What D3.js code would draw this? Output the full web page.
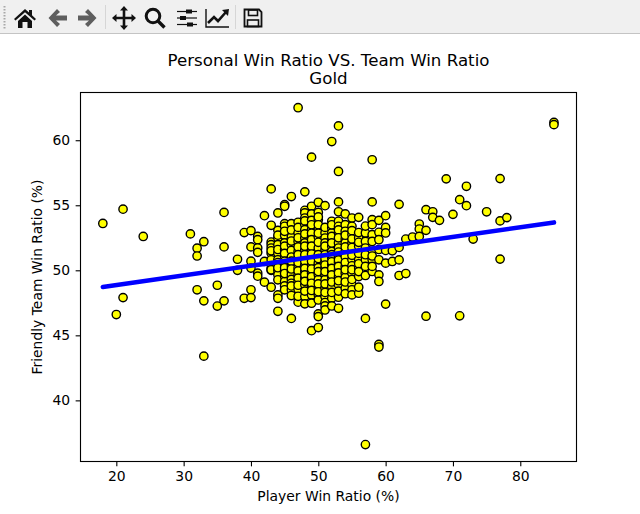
<!DOCTYPE html>
<html>
<head>
<meta charset="utf-8">
<script src="https://cdn.jsdelivr.net/npm/d3@7/dist/d3.min.js"></script>
<style>
  html, body { margin: 0; padding: 0; background: #fff; }
  svg { display: block; font-family: "DejaVu Sans", sans-serif; }
  .tick text { font-size: 13.9px; fill: #000; }
</style>
</head>
<body>
<svg id="chart" width="640" height="514"></svg>
<script>
const titleLines = ["Personal Win Ratio VS. Team Win Ratio", "Gold"];
const xLabel = "Player Win Ratio (%)";
const yLabel = "Friendly Team Win Ratio (%)";
const xTicks = [20, 30, 40, 50, 60, 70, 80];
const yTicks = [40, 45, 50, 55, 60];

// player win ratio is whole numbers, so friendly team values are kept per column
const playerWin = [18, 20, 21, 24, 31, 32, 33, 35, 36, 38, 39, 40, 41, 42, 43, 44, 45, 46, 47, 48, 49, 50, 51, 52, 53, 54, 55, 56, 57, 58, 59, 60, 61, 62, 63, 64, 65, 66, 67, 68, 69, 70, 71, 72, 73, 75, 77, 78, 85];
const teamWin = [
  [53.6],
  [46.6],
  [54.7, 47.9],
  [52.6],
  [52.8],
  [51.7, 51.1, 48.5],
  [52.2, 47.65, 43.4],
  [48.85, 47.25],
  [54.45, 51.8, 47.65],
  [50.85, 50],
  [52.9, 47.85],
  [53.05, 51.8, 50.7, 50.17, 48.5, 47.9],
  [52.61, 52.35, 51.71, 51.38, 49.78, 49.55],
  [54.2, 50.68, 49.09],
  [56.26, 53.46, 52.17, 51.97, 51.71, 51.32, 50.81, 50.17, 49.99, 48.7, 51.5, 50.05],
  [54.41, 53.07, 52.48, 51.97, 51.32, 50.81, 49.99, 49.65, 49.27, 48.11, 47.85, 46.85, 52.7, 51.6, 50.6, 50.2],
  [55.05, 54.92, 53.59, 53.38, 52.69, 52.1, 51.58, 51.07, 50.42, 49.99, 49.52, 49.14, 48.8, 48.5, 53, 51.85, 51.3, 50.7, 50.2, 49.75],
  [55.67, 53.59, 52.56, 51.97, 51.53, 51.02, 50.35, 49.91, 49.65, 48.5, 48.06, 46.3, 53.1, 52.25, 50.7, 50.1, 49.3, 49, 48.8],
  [62.5, 53.69, 52.87, 52.22, 51.45, 50.94, 50.17, 49.65, 49.14, 48.55, 47.55, 53.3, 52.5, 51.8, 51.2, 50.6, 49.95, 49.4, 48.85, 48],
  [56.03, 54.61, 54.41, 54.02, 53.51, 53.12, 52.48, 52.1, 51.58, 50.94, 50.42, 49.91, 49.4, 48.88, 47.98, 47.42, 53.8, 52.8, 51.85, 51.2, 50.7, 50.15, 49.65, 49.15, 48.4],
  [58.7, 54.92, 54.33, 53.84, 53.12, 52.61, 52.1, 51.58, 50.94, 50.42, 49.78, 49.27, 48.8, 48.11, 47.47, 45.36, 53.5, 52.85, 52.35, 51.85, 51.25, 50.7, 50.1, 49.5, 49, 48.45],
  [55.23, 54.45, 53.89, 53.17, 52.56, 51.71, 51.2, 50.55, 49.65, 49.27, 48.62, 48.11, 47.72, 46.65, 46.44, 45.6, 54.1, 53.5, 52.85, 52.15, 50.9, 50.2, 49.9, 48.95, 48.35],
  [54.97, 52.87, 52.48, 52.1, 51.58, 51.2, 50.68, 50.17, 49.65, 49.27, 48.62, 47.98, 47.52, 47.26, 46.95, 53.3, 51.85, 50.9, 50.4, 49.9, 48.95, 48.3],
  [59.9, 53.77, 53.25, 52.87, 52.35, 51.84, 51.45, 50.94, 50.42, 49.91, 49.4, 48.75, 47.85, 47.26, 53.5, 52.6, 52.1, 51.2, 50.65, 50.15, 49.65, 49.1, 48.3],
  [61.1, 57.6, 55.26, 54.5, 53.77, 53.38, 52.87, 52.1, 51.71, 51.07, 50.6, 50.04, 49.52, 48.88, 47.93, 47.08, 53.1, 52.5, 51.4, 50.8, 50.3, 49.8, 49.2, 48.4],
  [54.33, 53.51, 53, 52.4, 52.1, 51.45, 50.3, 49.78, 49.45, 48.62, 52.7, 51.8, 51.05, 50.6, 50.05, 49.1, 48.2],
  [54.02, 53.38, 52.74, 52.1, 51.45, 50.81, 50.35, 49.78, 48.88, 48.5, 48.11, 53.05, 52.4, 51.75, 51.15, 50.05, 49.3],
  [54.07, 52.48, 51.84, 50.81, 50.17, 49.52, 48.24, 52.9, 52.15, 51.3, 50.5, 49.9, 48.7],
  [52.87, 52.22, 51.71, 50.81, 49.6, 46.3, 36.6, 53.4, 51.2, 50.3],
  [58.5, 55.26, 53.89, 53.51, 52.74, 52.22, 51.58, 50.81, 49.91, 51.1, 50.3],
  [53.84, 52.92, 52.35, 50.81, 49.65, 49.14, 44.3, 44.1, 51.6],
  [54.2, 53.3, 52.87, 51.53, 50.55, 47.4],
  [51.5, 50.68],
  [55.07, 51.76, 50.8, 49.6],
  [52.4, 49.75],
  [52.56],
  [53.56, 53.17, 52.6],
  [54.66, 53.07, 46.47],
  [54.5, 54.07],
  [53.84],
  [57.03],
  [54.3],
  [55.43, 46.5],
  [56.46, 54.97],
  [52.4],
  [54.5],
  [57.05, 53.8, 50.86],
  [54.05],
  [61.37, 61.2]
];
const fitX = [18, 85];
const fitY = [48.72, 53.68];

const points = playerWin.flatMap((p, i) => teamWin[i].map(t => ({ p, t })));

const svg = d3.select("#chart");

// toolbar strip of the plot window
const toolbar = svg.append("g");
toolbar.append("rect").attr("width", 640).attr("height", 33).attr("fill", "#f0f0f0");
toolbar.append("line").attr("x1", 0).attr("x2", 640).attr("y1", 33.5).attr("y2", 33.5).attr("stroke", "#c4c4c4");
toolbar.append("line").attr("x1", 4.5).attr("x2", 4.5).attr("y1", 6).attr("y2", 30)
  .attr("stroke", "#a8a8a8").attr("stroke-dasharray", "1.5 1.5").attr("stroke-width", 2);
[105.5, 235.5].forEach(x => {
  toolbar.append("line").attr("x1", x).attr("x2", x).attr("y1", 5).attr("y2", 29).attr("stroke", "#d6d6d6");
});

const dark = "#111";
const grey = "#5e5e5e";
const icon = (x, y) => toolbar.append("g").attr("transform", `translate(${x},${y})`);

// home
icon(25, 18).append("path").attr("fill", dark)
  .attr("d", "M-11,1 L0,-9 L4,-5.5 L4,-8 L7,-8 L7,-2.8 L11,1 L9.5,2.5 L0,-5.8 L-9.5,2.5 Z M-7,3 L0,-3.4 L7,3 L7,10 L2.5,10 L2.5,4 L-2.5,4 L-2.5,10 L-7,10 Z");
// back
icon(58, 18).append("path").attr("fill", grey)
  .attr("d", "M-9.5,0 L-1,-9 L2,-6 L-2,-2.5 L9,-2.5 L9,2.5 L-2,2.5 L2,6 L-1,9 Z");
// forward
icon(87, 18).append("path").attr("fill", grey)
  .attr("d", "M9.5,0 L1,-9 L-2,-6 L2,-2.5 L-9,-2.5 L-9,2.5 L2,2.5 L-2,6 L1,9 Z");
// move
icon(124, 18).append("path").attr("fill", dark)
  .attr("d", "M0,-12 L4,-7.5 L1.3,-7.5 L1.3,-1.3 L7.5,-1.3 L7.5,-4 L12,0 L7.5,4 L7.5,1.3 L1.3,1.3 L1.3,7.5 L4,7.5 L0,12 L-4,7.5 L-1.3,7.5 L-1.3,1.3 L-7.5,1.3 L-7.5,4 L-12,0 L-7.5,-4 L-7.5,-1.3 L-1.3,-1.3 L-1.3,-7.5 L-4,-7.5 Z");
// zoom
const lens = icon(155, 18);
lens.append("circle").attr("cx", -2).attr("cy", -2).attr("r", 6.8).attr("fill", "none").attr("stroke", dark).attr("stroke-width", 3);
lens.append("line").attr("x1", 3).attr("y1", 3).attr("x2", 9.5).attr("y2", 9.5).attr("stroke", dark).attr("stroke-width", 3.4);
// subplots
const sliders = icon(187, 18);
[[-6.5, 2], [0, -4], [6.5, 3]].forEach(([dy, dx]) => {
  sliders.append("line").attr("x1", -10).attr("x2", 10).attr("y1", dy).attr("y2", dy).attr("stroke", dark).attr("stroke-width", 1.2);
  sliders.append("rect").attr("x", dx - 3).attr("y", dy - 2).attr("width", 6).attr("height", 4).attr("fill", dark);
});
// axes edit
const editor = icon(217, 18);
editor.append("path").attr("fill", "none").attr("stroke", dark).attr("stroke-width", 1.4).attr("d", "M-11,-9 L-11,9 L12,9");
editor.append("path").attr("fill", "none").attr("stroke", dark).attr("stroke-width", 2.6).attr("d", "M-9,5 L-3,-1 L1,3 L9,-6");
editor.append("path").attr("fill", dark).attr("d", "M5,-8 L12,-9 L11,-2 Z");
// save
const floppy = icon(253, 18);
floppy.append("path").attr("fill", "none").attr("stroke", dark).attr("stroke-width", 1.8).attr("d", "M-8.5,-8.5 L6,-8.5 L8.5,-6 L8.5,8.5 L-8.5,8.5 Z");
floppy.append("rect").attr("x", -4.5).attr("y", -8).attr("width", 9).attr("height", 5.5).attr("fill", "none").attr("stroke", dark).attr("stroke-width", 1.6);
floppy.append("rect").attr("x", -5.5).attr("y", 2).attr("width", 11).attr("height", 6.5).attr("fill", "none").attr("stroke", dark).attr("stroke-width", 1.6);

// chart
const margin = { top: 92.5, right: 63.5, bottom: 52.5, left: 80.5 };
const innerWidth = 640 - margin.left - margin.right;
const innerHeight = 514 - margin.top - margin.bottom;

const xScale = d3.scaleLinear().domain([14.68, 88.35]).range([0, innerWidth]);
const yScale = d3.scaleLinear().domain([35.3, 63.67]).range([innerHeight, 0]);

const g = svg.append("g").attr("transform", `translate(${margin.left},${margin.top})`);

g.selectAll("circle.point").data(points).join("circle")
  .attr("class", "point")
  .attr("cx", d => xScale(d.p))
  .attr("cy", d => yScale(d.t))
  .attr("r", 4.17)
  .attr("fill", "#ffff00")
  .attr("stroke", "#000")
  .attr("stroke-width", 1.39);

const fitLine = d3.line().x(d => xScale(d[0])).y(d => yScale(d[1]));
g.append("path")
  .datum(fitX.map((x, i) => [x, fitY[i]]))
  .attr("d", fitLine)
  .attr("fill", "none")
  .attr("stroke", "#0000ff")
  .attr("stroke-width", 4.6)
  .attr("stroke-linecap", "round");

g.append("rect").attr("width", innerWidth).attr("height", innerHeight)
  .attr("fill", "none").attr("stroke", "#000").attr("stroke-width", 1.11);

const xAxis = g.append("g").attr("transform", `translate(0,${innerHeight})`)
  .call(d3.axisBottom(xScale).tickValues(xTicks).tickSize(4.86).tickPadding(4.86));
const yAxis = g.append("g")
  .call(d3.axisLeft(yScale).tickValues(yTicks).tickSize(4.86).tickPadding(5.5));
[xAxis, yAxis].forEach(a => {
  a.select(".domain").remove();
  a.selectAll(".tick line").attr("stroke-width", 1.11);
  a.attr("font-family", null).attr("font-size", null);
});

svg.selectAll("text.title").data(titleLines).join("text")
  .attr("class", "title")
  .attr("x", margin.left + innerWidth / 2)
  .attr("y", (d, i) => 66 + i * 18)
  .attr("text-anchor", "middle")
  .attr("font-size", 16.67)
  .text(d => d);

g.append("text")
  .attr("x", innerWidth / 2)
  .attr("y", innerHeight + 39.5)
  .attr("text-anchor", "middle")
  .attr("font-size", 13.9)
  .text(xLabel);

g.append("text")
  .attr("transform", `translate(-38.5,${innerHeight / 2}) rotate(-90)`)
  .attr("text-anchor", "middle")
  .attr("font-size", 13.9)
  .text(yLabel);
</script>
</body>
</html>
